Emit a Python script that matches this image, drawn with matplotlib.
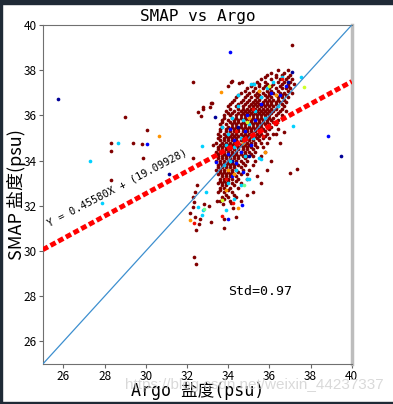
import numpy as np
import matplotlib
matplotlib.use('Agg')
import matplotlib.pyplot as plt
from matplotlib.patches import Rectangle

plt.rcParams['font.family'] = ['Noto Sans CJK SC', 'DejaVu Sans']
plt.rcParams['axes.unicode_minus'] = False

# main cloud (maroon points)
maroon_x = [36.4, 36.9,
            35.9, 36.3, 36.6, 37.0,
            35.6, 36.1, 36.5, 36.8, 37.1,
            35.2, 35.5, 35.9, 36.2, 36.6, 36.9, 37.2,
            34.9, 35.3, 35.7, 36.0, 36.3, 36.6, 36.8, 37.0,
            34.6, 35.0, 35.4, 35.7, 36.0, 36.2, 36.5, 36.7, 37.1,
            34.4, 34.8, 35.1, 35.4, 35.6, 35.9, 36.1, 36.4, 36.6, 36.9,
            34.2, 34.6, 34.9, 35.2, 35.4, 35.7, 35.9, 36.1, 36.3, 36.5, 36.8,
            34.0, 34.4, 34.7, 35.0, 35.2, 35.4, 35.6, 35.8, 36.0, 36.2, 36.4, 36.7,
            33.9, 34.3, 34.6, 34.8, 35.0, 35.2, 35.4, 35.6, 35.8, 36.0, 36.2, 36.5, 36.8,
            33.8, 34.1, 34.4, 34.6, 34.8, 35.0, 35.2, 35.4, 35.6, 35.8, 36.0, 36.3, 36.6,
            33.7, 34.0, 34.3, 34.5, 34.7, 34.9, 35.1, 35.3, 35.5, 35.7, 35.9, 36.1, 36.4,
            33.6, 33.9, 34.2, 34.4, 34.6, 34.8, 35.0, 35.2, 35.4, 35.6, 35.8, 36.0, 36.3,
            33.6, 33.9, 34.1, 34.3, 34.5, 34.7, 34.9, 35.1, 35.3, 35.5, 35.7, 36.0, 36.4,
            33.5, 33.8, 34.0, 34.2, 34.4, 34.6, 34.8, 35.0, 35.2, 35.4, 35.6, 35.9, 36.2,
            33.5, 33.8, 34.0, 34.2, 34.4, 34.6, 34.8, 35.0, 35.2, 35.4, 35.7, 36.0,
            33.4, 33.7, 33.9, 34.1, 34.3, 34.5, 34.7, 34.9, 35.1, 35.3, 35.6, 35.9,
            33.5, 33.7, 33.9, 34.1, 34.3, 34.5, 34.7, 34.9, 35.1, 35.4, 35.7,
            33.4, 33.6, 33.8, 34.0, 34.2, 34.4, 34.6, 34.8, 35.0, 35.3, 35.8,
            33.5, 33.7, 33.9, 34.1, 34.3, 34.5, 34.7, 34.9, 35.2, 35.6,
            33.4, 33.6, 33.8, 34.0, 34.2, 34.4, 34.6, 34.9, 35.3,
            33.5, 33.7, 33.9, 34.1, 34.3, 34.5, 34.8, 35.2,
            33.4, 33.6, 33.8, 34.0, 34.2, 34.4, 34.7, 35.0,
            33.5, 33.7, 33.9, 34.1, 34.3, 34.6, 34.9,
            33.6, 33.8, 34.0, 34.2, 34.5, 34.9,
            33.5, 33.7, 33.9, 34.2, 34.6,
            33.6, 33.8, 34.1, 34.5,
            33.5, 33.8, 34.2,
            33.7, 34.0, 34.4,
            33.6, 34.1,
            # scattered maroon points
            28.98, 30.08, 32.30, 37.10, 34.01, 34.13, 34.19, 32.77, 32.77, 33.20,
            33.14, 32.54, 32.69, 28.33, 29.38, 29.82, 28.30, 29.87, 28.30, 32.30,
            32.35, 32.46, 32.33, 32.30, 32.83, 33.06, 33.46, 33.75, 34.16, 34.64,
            34.21, 32.14, 32.41, 32.62, 33.19, 33.80, 34.37, 32.43, 37.02, 37.36,
            33.27, 36.71, 34.51, 34.67, 33.19, 32.40, 32.50, 32.30, 32.60, 36.50,
            36.30, 35.90, 36.10, 35.40, 35.60, 35.20, 34.90, 33.80]
maroon_y = [38.0] * 2 + [37.8] * 4 + [37.6] * 5 + [37.4] * 7 + [37.2] * 8 + \
           [37.0] * 9 + [36.8] * 10 + [36.6] * 11 + [36.4] * 12 + [36.2] * 13 + \
           [36.0] * 13 + [35.8] * 13 + [35.6] * 13 + [35.4] * 13 + [35.2] * 13 + \
           [35.0] * 12 + [34.8] * 12 + [34.6] * 11 + [34.4] * 11 + [34.2] * 10 + \
           [34.0] * 9 + [33.8] * 8 + [33.6] * 8 + [33.4] * 7 + [33.2] * 6 + \
           [33.0] * 5 + [32.8] * 4 + [32.6] * 3 + [32.4] * 3 + [32.2] * 2 + \
           [35.92, 35.35, 37.48, 39.12, 37.30, 37.50, 37.52, 36.39, 36.30, 36.55,
            36.39, 36.16, 35.96, 34.79, 34.79, 34.72, 34.44, 34.10, 33.14, 34.10,
            29.75, 29.42, 32.18, 31.93, 32.07, 31.99, 32.21, 32.08, 32.11, 32.23,
            31.92, 31.67, 31.52, 31.40, 31.28, 31.42, 31.52, 30.93, 33.44, 33.62,
            34.69, 35.28, 37.45, 37.49, 36.56, 32.60, 32.90, 32.40, 31.20, 34.80,
            35.20, 33.60, 34.00, 33.30, 33.00, 32.60, 32.50, 31.00]

# in-between rows of the dense cloud
maroon2_x = [36.1, 36.7,
             35.8, 36.3, 36.9,
             35.4, 35.8, 36.4, 36.7, 37.0,
             35.1, 35.5, 35.8, 36.1, 36.5, 36.9,
             34.8, 35.2, 35.5, 35.9, 36.1, 36.4, 36.9,
             34.5, 34.9, 35.3, 35.5, 35.8, 36.0, 36.3, 36.6, 36.8,
             34.3, 34.7, 35.0, 35.3, 35.5, 35.8, 36.0, 36.2, 36.4, 36.7,
             34.1, 34.5, 34.8, 35.1, 35.3, 35.5, 35.7, 35.9, 36.1, 36.3, 36.6,
             34.1, 34.5, 34.7, 34.9, 35.1, 35.3, 35.5, 35.7, 35.9, 36.1, 36.3, 36.6,
             34.0, 34.2, 34.5, 34.7, 34.9, 35.1, 35.3, 35.5, 35.7, 35.9, 36.1, 36.4,
             33.8, 34.2, 34.4, 34.6, 34.8, 35.0, 35.2, 35.4, 35.6, 35.8, 36.0, 36.2,
             33.7, 34.1, 34.3, 34.5, 34.7, 34.9, 35.1, 35.3, 35.5, 35.7, 35.9, 36.2,
             33.7, 34.0, 34.2, 34.4, 34.6, 34.8, 35.0, 35.2, 35.4, 35.6, 35.9, 36.1,
             33.6, 33.9, 34.1, 34.3, 34.5, 34.7, 34.9, 35.1, 35.3, 35.5, 35.8,
             33.6, 33.9, 34.1, 34.3, 34.5, 34.7, 34.9, 35.1, 35.3, 35.5, 35.8,
             33.6, 33.8, 34.0, 34.2, 34.4, 34.6, 34.8, 35.0, 35.2, 35.5,
             33.6, 33.8, 34.0, 34.2, 34.4, 34.6, 34.8, 35.0, 35.3,
             33.5, 33.7, 33.9, 34.1, 34.3, 34.5, 34.7, 34.9, 35.2,
             33.5, 33.8, 34.0, 34.2, 34.4, 34.6, 34.8, 35.1,
             33.5, 33.7, 33.9, 34.1, 34.3, 34.5, 34.8,
             33.6, 33.8, 34.0, 34.2, 34.4, 34.7,
             33.5, 33.7, 33.9, 34.1, 34.3, 34.6,
             33.6, 33.8, 34.0, 34.2, 34.5,
             33.7, 33.9, 34.1, 34.4,
             33.6, 33.8, 34.0, 34.4,
             33.7, 33.9, 34.3,
             33.6, 34.0,
             33.9, 34.3,
             33.8]
maroon2_y = [37.9] * 2 + [37.7] * 3 + [37.5] * 5 + [37.3] * 6 + [37.1] * 7 + \
            [36.9] * 9 + [36.7] * 10 + [36.5] * 11 + [36.3] * 12 + [36.1] * 12 + \
            [35.9] * 12 + [35.7] * 12 + [35.5] * 12 + [35.3] * 11 + [35.1] * 11 + \
            [34.9] * 10 + [34.7] * 9 + [34.5] * 9 + [34.3] * 8 + [34.1] * 7 + \
            [33.9] * 6 + [33.7] * 6 + [33.5] * 5 + [33.3] * 4 + [33.1] * 4 + \
            [32.9] * 3 + [32.7] * 2 + [32.5] * 2 + [32.3] * 1

cyan_x = [34.2, 34.5, 34.0, 34.3, 34.6, 34.1, 34.4, 34.8, 35.0, 35.3, 35.6, 35.9, 36.2, 36.6,
          34.9, 35.0, 34.0, 33.9, 34.7, 35.2, 35.5, 34.5, 35.1, 33.8, 34.6, 33.7, 35.8, 36.4,
          34.3, 33.9, 32.8, 32.75, 32.54, 37.56, 37.14, 32.75, 32.94, 35.58, 35.26, 27.31,
          28.66, 27.85]
cyan_y = [35.9, 36.4, 35.2, 34.6, 35.0, 34.0, 33.6, 34.2, 35.6, 36.2, 36.8, 37.2, 37.5, 37.7,
          33.2, 33.2, 33.0, 34.7, 35.8, 35.0, 34.1, 36.9, 37.4, 33.8, 32.9, 35.5, 35.9, 36.4,
          32.3, 31.8, 31.8, 31.6, 31.93, 37.68, 35.54, 34.65, 32.62, 34.09, 37.38, 33.98,
          34.79, 32.14]

blue_x = [34.08, 30.08, 38.85, 34.69, 34.3, 34.6, 34.1, 34.8, 34.4, 35.1, 34.9, 35.6, 36.1,
          36.5, 34.0, 33.4, 34.2, 35.3, 36.8, 34.7, 34.01]
blue_y = [38.8, 34.72, 35.10, 32.04, 34.9, 34.4, 35.4, 35.3, 33.9, 34.7, 36.0, 36.5, 37.0,
          36.9, 34.3, 33.95, 33.3, 35.8, 37.3, 33.5, 31.43]

navy_x = [25.74, 37.12, 39.47, 33.35, 31.12, 34.5, 35.0, 36.9, 34.2]
navy_y = [36.73, 37.93, 34.22, 35.94, 33.41, 35.5, 34.2, 37.5, 34.0]

orange_x = [30.62, 33.67, 32.14, 35.81, 34.3, 35.5, 34.0, 34.7, 36.3, 35.0, 33.9, 34.5]
orange_y = [35.09, 37.02, 31.37, 34.40, 33.4, 37.1, 33.6, 34.8, 36.9, 35.9, 32.7, 31.9]

red_x = [34.24, 33.72, 32.33, 34.4, 35.2, 33.9, 36.6, 35.7]
red_y = [32.14, 31.56, 31.25, 35.3, 36.3, 33.2, 37.6, 35.1]

lime_x = [37.67, 33.70, 34.9, 36.0]
lime_y = [37.24, 32.26, 35.7, 37.3]

mint_x = [34.77, 32.85]
mint_y = [32.92, 31.85]

# drawn fit line and 1:1 line
fit_x = [25, 40]
fit_y = [30.06, 37.5]
one_x = [25, 40]
one_y = [25, 40]

eq_text = 'Y = 0.45580X + (19.09928)'
std_text = 'Std=0.97'

mono = ['DejaVu Sans Mono', 'Noto Sans CJK SC']

fig = plt.figure(figsize=(3.93, 4.04), dpi=100)
ax = fig.add_axes([0.109, 0.099, 0.786, 0.839])

jet = plt.get_cmap('jet')
groups = [(navy_x, navy_y, 0.02), (blue_x, blue_y, 0.13), (cyan_x, cyan_y, 0.33),
          (mint_x, mint_y, 0.48), (lime_x, lime_y, 0.6), (orange_x, orange_y, 0.75),
          (red_x, red_y, 0.9)]
ax.scatter(maroon_x, maroon_y, s=7, color=jet(1.0), marker='o', linewidths=0, zorder=2)
ax.scatter(maroon2_x, maroon2_y, s=7, color=jet(1.0), marker='o', linewidths=0, zorder=2)
for gx, gy, cv in groups:
    ax.scatter(gx, gy, s=7, color=jet(cv), marker='o', linewidths=0, zorder=2)

ax.plot(one_x, one_y, color='#3d8fcf', lw=0.9, zorder=3)
ax.plot(fit_x, fit_y, color='red', lw=3.5, linestyle=(0, (1.2, 0.6)), zorder=4)

ax.text(28.6, 32.8, eq_text, rotation=27.6, ha='center', va='center', fontsize=7.5,
        rotation_mode='anchor', family=mono)
ax.text(34.0, 28.2, std_text, ha='left', va='center', fontsize=9.5, family=mono)

ax.set_xlim(25, 40)
ax.set_ylim(25, 40)
ax.set_xticks([26, 28, 30, 32, 34, 36, 38, 40])
ax.set_yticks([26, 28, 30, 32, 34, 36, 38, 40])
ax.tick_params(labelsize=8.5, length=3, pad=1.5, color='#666666')
ax.set_title('SMAP vs Argo', fontsize=11.5, pad=3, family=mono)
ax.set_xlabel('Argo 盐度(psu)', fontsize=12, labelpad=-1, family=mono)
ax.set_ylabel('SMAP 盐度(psu)', fontsize=13, labelpad=-2)

for side in ['left', 'bottom', 'top']:
    ax.spines[side].set_color('#707070')
ax.spines['right'].set_color('#bdbdbd')
ax.spines['right'].set_linewidth(2.5)

# screenshot frame and watermark
fig.patches.append(Rectangle((0, 0.99), 1, 0.01, transform=fig.transFigure,
                             color='#1f2a36', zorder=10))
fig.patches.append(Rectangle((0, 0), 0.005, 1, transform=fig.transFigure,
                             color='#1f2a36', zorder=10))
fig.patches.append(Rectangle((0, 0), 1, 0.006, transform=fig.transFigure,
                             color='#1f2a36', zorder=10))
fig.text(0.975, 0.047, 'https://blog.csdn.net/weixin_44237337', ha='right', va='center',
         fontsize=11, color='#d0d0d0', alpha=0.8, family='Liberation Sans')

fig.savefig('out.png', dpi=100)
